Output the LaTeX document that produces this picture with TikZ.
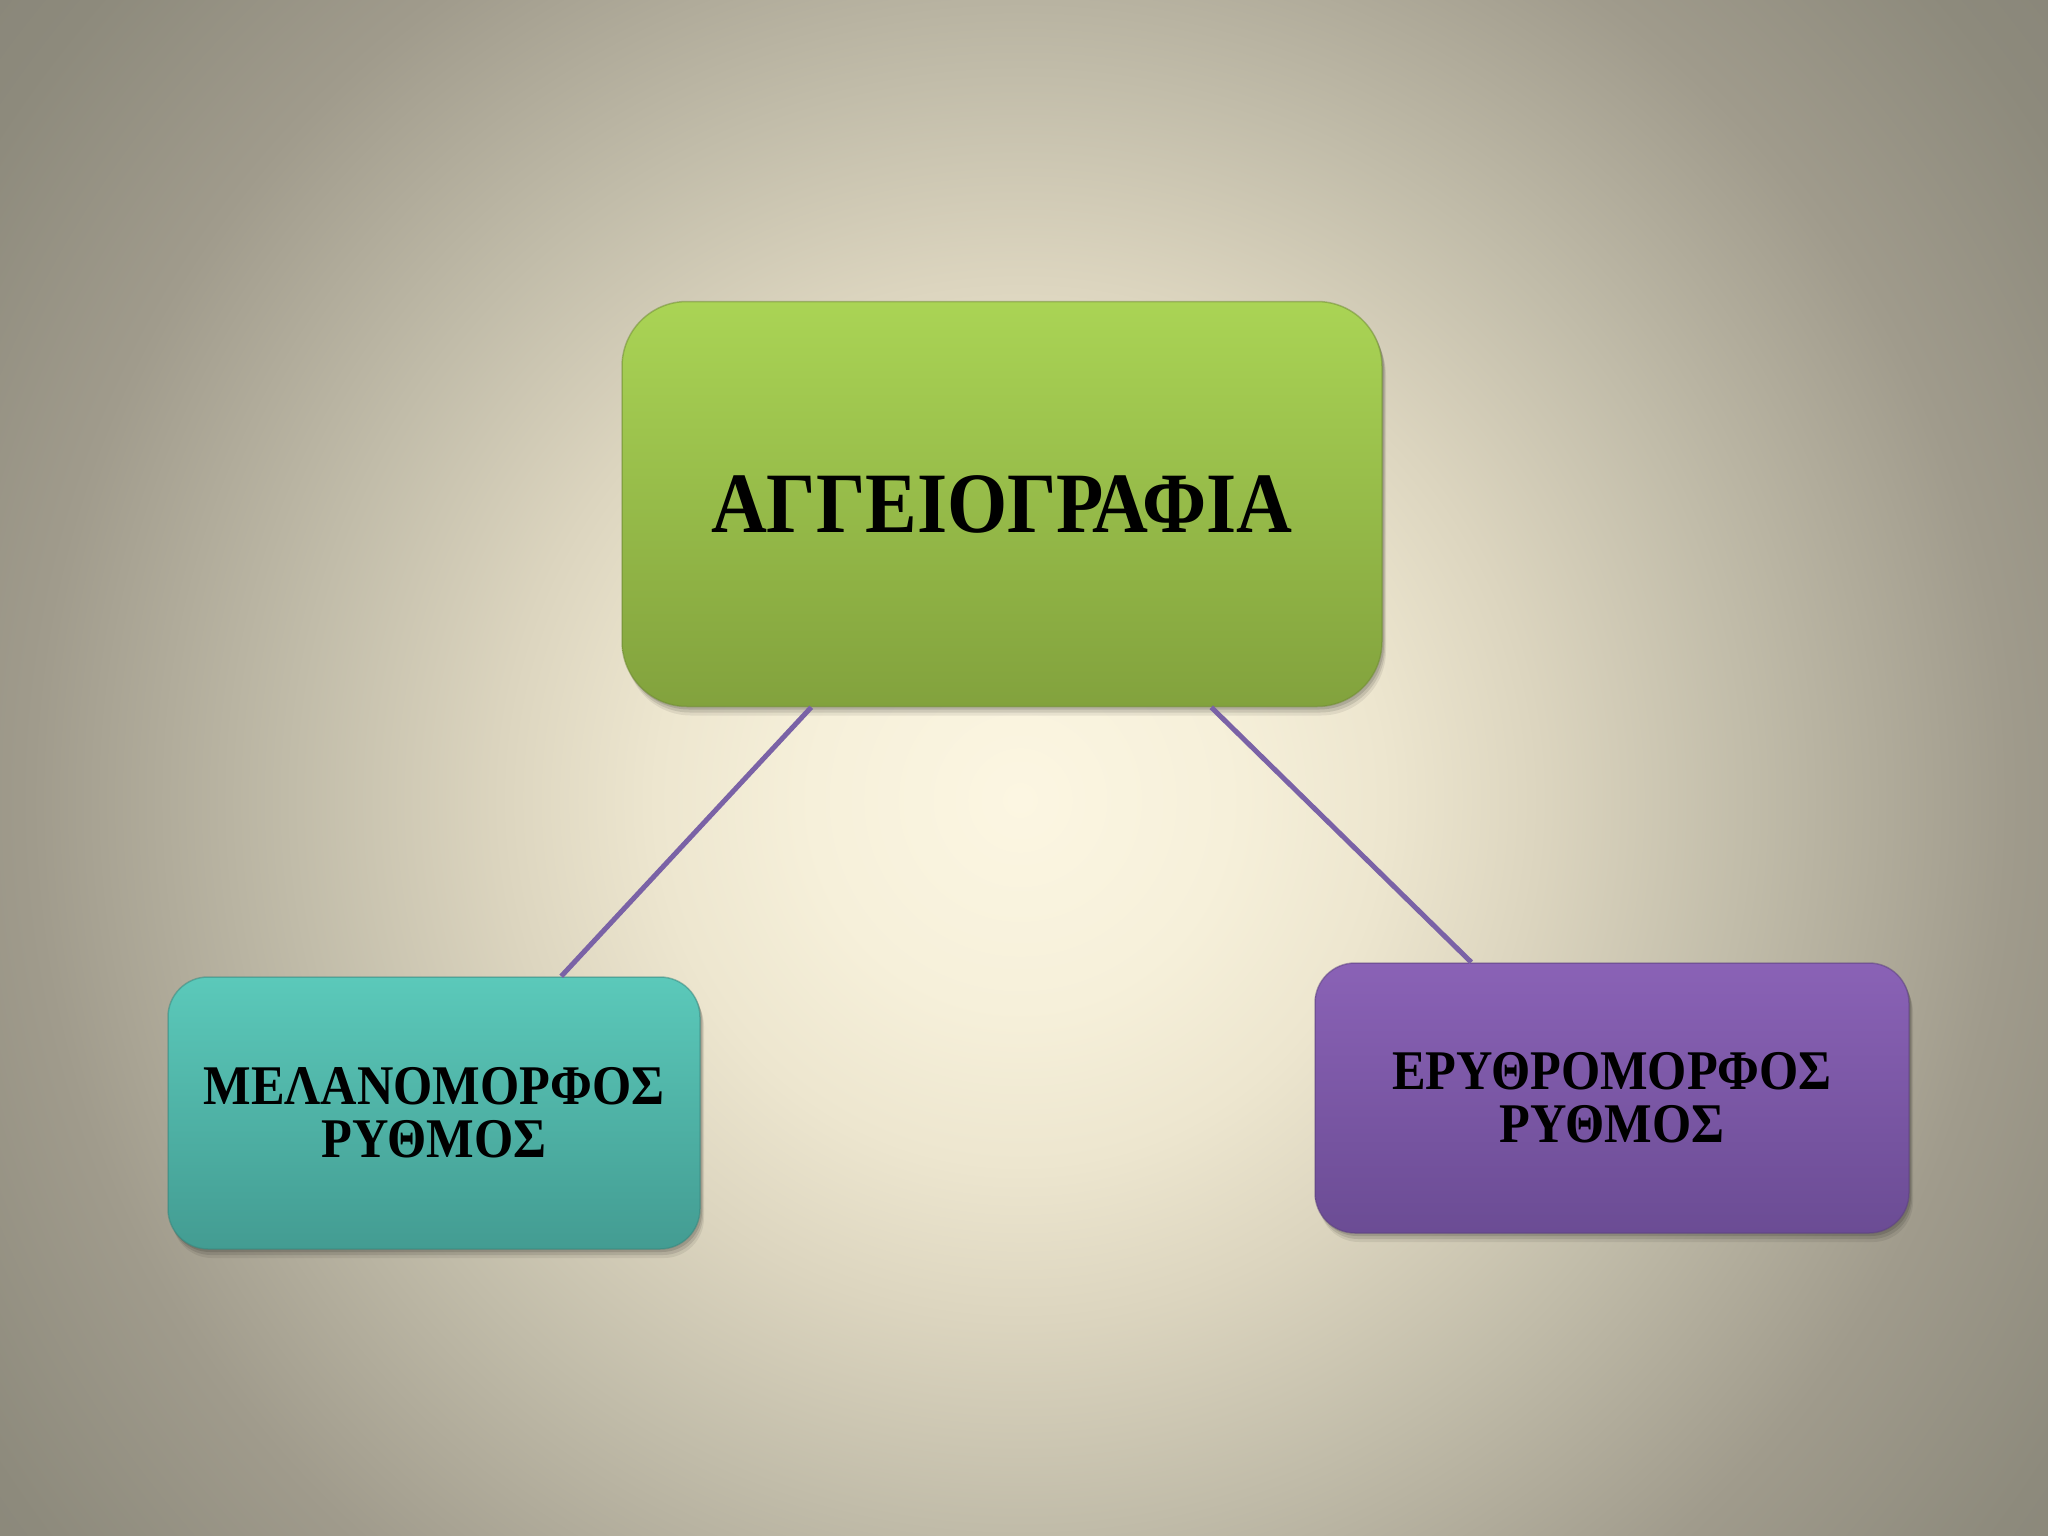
\documentclass[tikz,border=0pt]{standalone}
\usepackage{fontspec}
\setmainfont{Liberation Serif}
\newfontfamily\tnr[FakeStretch=0.9]{Liberation Serif}
\usetikzlibrary{shadows}
\definecolor{gtop}{HTML}{AAD455}
\definecolor{gbot}{HTML}{82A23D}
\definecolor{ttop}{HTML}{5BC9BA}
\definecolor{tbot}{HTML}{439C92}
\definecolor{ptop}{HTML}{8A62B6}
\definecolor{pbot}{HTML}{6B4C94}
\definecolor{conncol}{HTML}{7A62A6}
\pgfdeclareradialshading{bgshade}{\pgfpoint{0bp}{0bp}}{%
  color(0bp)=(rgb,255:red,252;green,246;blue,226);
  color(4bp)=(rgb,255:red,246;green,240;blue,218);
  color(7bp)=(rgb,255:red,237;green,230;blue,207);
  color(10bp)=(rgb,255:red,220;green,213;blue,191);
  color(14bp)=(rgb,255:red,193;green,188;blue,169);
  color(19bp)=(rgb,255:red,160;green,155;blue,140);
  color(23.5bp)=(rgb,255:red,141;green,138;blue,124);
  color(25bp)=(rgb,255:red,138;green,135;blue,122);
  color(50bp)=(rgb,255:red,138;green,135;blue,122)}
\tikzset{
  box/.style={rounded corners=#1, inner sep=0pt, align=center,
    drop shadow={shadow xshift=2pt, shadow yshift=-3pt, opacity=0.12, fill=black},
    drop shadow={shadow xshift=3pt, shadow yshift=-6pt, opacity=0.10, fill=black},
    drop shadow={shadow xshift=4pt, shadow yshift=-9pt, opacity=0.07, fill=black}},
  bigtext/.style={font=\tnr\bfseries\fontsize{86}{86}\selectfont},
  smalltext/.style={font=\tnr\bfseries\fontsize{56}{53}\selectfont},
  conn/.style={draw=conncol, line width=5pt}
}
\begin{document}
\begin{tikzpicture}[x=1pt,y=-1pt]
\useasboundingbox (0,0) rectangle (2048,1536);
\clip (0,0) rectangle (2048,1536);
\fill[shading=bgshade] (-280,-500) rectangle (2320,2100);
\node[box=65pt, top color=gtop, bottom color=gbot, draw=gbot!85!black, draw opacity=0.5, line width=1.5pt, minimum width=760pt, minimum height=405pt, bigtext] (top) at (1002,504) {ΑΓΓΕΙΟΓΡΑΦΙΑ};
\node[box=40pt, top color=ttop, bottom color=tbot, draw=tbot!85!black, draw opacity=0.5, line width=1.5pt, minimum width=532pt, minimum height=272pt, smalltext] (left) at (434,1113) {ΜΕΛΑΝΟΜΟΡΦΟΣ\\ΡΥΘΜΟΣ};
\node[box=40pt, top color=ptop, bottom color=pbot, draw=pbot!85!black, draw opacity=0.5, line width=1.5pt, minimum width=594pt, minimum height=270pt, smalltext] (right) at (1612,1098) {ΕΡΥΘΡΟΜΟΡΦΟΣ\\ΡΥΘΜΟΣ};
\draw[conn] ([xshift=190pt]top.south west) -- ([xshift=394pt]left.north west);
\draw[conn] ([xshift=590pt]top.south west) -- ([xshift=157pt]right.north west);
\end{tikzpicture}
\end{document}
